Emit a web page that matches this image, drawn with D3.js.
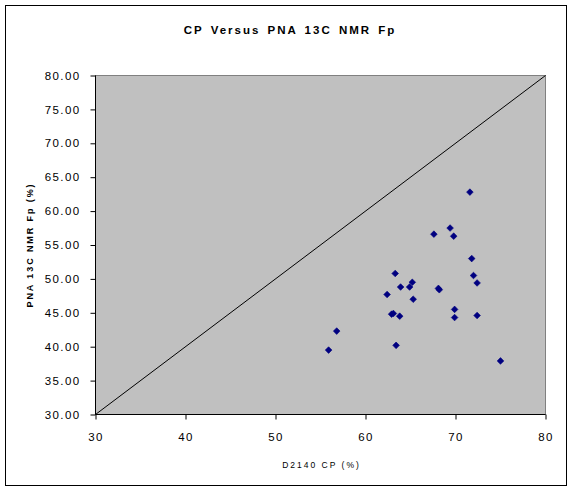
<!DOCTYPE html>
<html>
<head>
<meta charset="utf-8">
<script src="https://cdn.jsdelivr.net/npm/d3@7"></script>
<style>
  html, body { margin: 0; padding: 0; background: #ffffff; }
  svg { display: block; }
  text { font-family: Arial, "Liberation Sans", sans-serif; }
</style>
</head>
<body>
<svg id="chart" width="573" height="491"></svg>
<script>
// ---- data ----
const titleText = "CP Versus PNA 13C NMR Fp";
const xAxisTitle = "D2140 CP (%)";
const yAxisTitle = "PNA 13C NMR Fp (%)";
const xTicks = [30, 40, 50, 60, 70, 80];
const yTicks = [30, 35, 40, 45, 50, 55, 60, 65, 70, 75, 80];
const cpValues  = [71.6, 69.4, 67.6, 69.8, 71.8, 63.3, 72.0, 65.2, 72.4, 63.9, 64.9, 68.1, 68.2, 62.4, 65.3, 69.9, 62.9, 63.1, 63.8, 69.9, 72.4, 63.4, 75.0, 56.8, 55.9];
const pnaValues = [62.8, 57.5, 56.6, 56.3, 53.0, 50.8, 50.5, 49.5, 49.4, 48.8, 48.8, 48.6, 48.4, 47.7, 47.0, 45.5, 44.8, 44.9, 44.5, 44.3, 44.6, 40.2, 37.9, 42.3, 39.5];
const refLine = [30, 80];

// ---- layout ----
const svg = d3.select("#chart");
const plot = { left: 95.5, right: 545.5, top: 75.5, bottom: 414.5 };

const x = d3.scaleLinear().domain([30, 80]).range([plot.left, plot.right]);
const y = d3.scaleLinear().domain([30, 80]).range([plot.bottom, plot.top]);

// outer chart border
svg.append("rect")
  .attr("x", 5.5).attr("y", 5.5).attr("width", 561).attr("height", 480)
  .attr("fill", "#ffffff").attr("stroke", "#000000").attr("stroke-width", 1);

// plot area
svg.append("rect")
  .attr("x", plot.left).attr("y", plot.top)
  .attr("width", plot.right - plot.left).attr("height", plot.bottom - plot.top)
  .attr("fill", "#c0c0c0").attr("stroke", "#808080").attr("stroke-width", 1);

// reference line y = x
svg.append("line")
  .attr("x1", x(refLine[0])).attr("y1", y(refLine[0]))
  .attr("x2", x(refLine[1])).attr("y2", y(refLine[1]))
  .attr("stroke", "#000000").attr("stroke-width", 1);

// axes
const xAxis = d3.axisBottom(x).tickValues(xTicks).tickSize(5).tickPadding(13).tickFormat(d3.format("d"));
const yAxis = d3.axisLeft(y).tickValues(yTicks).tickSize(5).tickPadding(10).tickFormat(d3.format(".2f"));

const gx = svg.append("g").attr("transform", `translate(0,${plot.bottom})`).call(xAxis);
const gy = svg.append("g").attr("transform", `translate(${plot.left},0)`).call(yAxis);

[gx, gy].forEach(g => {
  g.select(".domain").attr("stroke", "#000000").attr("stroke-width", 1);
  g.selectAll(".tick line").attr("stroke", "#000000");
  g.selectAll(".tick text")
    .attr("fill", "#000000")
    .style("font-family", "Arial, 'Liberation Sans', sans-serif")
    .style("font-size", "11.5px")
    .style("letter-spacing", "1.4px");
});
gx.select(".domain").attr("d", `M${plot.left},0H${plot.right}`);
gy.select(".domain").attr("d", `M0,${plot.bottom}V${plot.top}`);

// points
const pts = cpValues.map((v, i) => ({ cp: v, pna: pnaValues[i] }));
svg.append("g").selectAll("path")
  .data(pts)
  .join("path")
  .attr("d", d3.symbol(d3.symbolSquare, 22))
  .attr("transform", d => `translate(${x(d.cp)},${y(d.pna)}) rotate(45)`)
  .attr("fill", "#000080")
  .attr("stroke", "#000080")
  .attr("stroke-width", 0.6);

// titles
svg.append("text")
  .attr("x", 290).attr("y", 34)
  .attr("text-anchor", "middle")
  .style("font-size", "11.5px").style("font-weight", "bold")
  .style("letter-spacing", "2px").style("word-spacing", "2px")
  .text(titleText);

svg.append("text")
  .attr("x", (plot.left + plot.right) / 2 + 1).attr("y", 468)
  .attr("text-anchor", "middle")
  .style("font-size", "8.5px").style("letter-spacing", "2px")
  .text(xAxisTitle);

svg.append("text")
  .attr("transform", `translate(33,${(plot.top + plot.bottom) / 2}) rotate(-90)`)
  .attr("text-anchor", "middle")
  .style("font-size", "9px").style("font-weight", "bold").style("letter-spacing", "1.9px")
  .text(yAxisTitle);
</script>
</body>
</html>
